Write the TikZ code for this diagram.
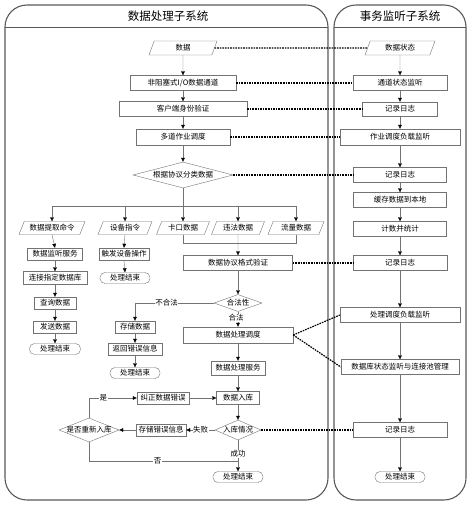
\documentclass[tikz,border=0pt]{standalone}
\usepackage{fontspec}
\setmainfont{Noto Sans CJK SC}
\usetikzlibrary{shapes.geometric,arrows.meta,positioning,calc}

\begin{document}
\begin{tikzpicture}[x=1pt, y=-1pt,
    every node/.style={font=\fontsize{7.5}{8}\selectfont, inner sep=1pt},
    box/.style={draw=black!55, fill=white, minimum height=15},
    io/.style={trapezium, trapezium left angle=60, trapezium right angle=120,
        trapezium stretches body, draw=black!55, fill=white, minimum height=14},
    dec/.style={diamond, draw=black!55, fill=white, inner sep=0pt},
    term/.style={draw=black!55, fill=white, rounded corners=5, minimum height=11},
    lbl/.style={fill=white, inner sep=0.5pt},
    link/.style={draw=black!55},
    arr/.style={draw=black!55, -{Triangle[length=4pt, width=3.6pt, color=black]}},
    dotline/.style={line width=1.2pt, dash pattern=on 1.6pt off 1pt},
    panel/.style={draw=black!65, line width=1.1pt, rounded corners=22},
    title/.style={font=\fontsize{11.5}{12}\selectfont}]
    \useasboundingbox (0,0) rectangle (474,509);

    % Panels
    \draw[panel] (5,5) rectangle (328,500);
    \draw[panel] (334,5) rectangle (466,500);
    \draw[draw=black!65, line width=0.8pt] (5,27) -- (328,27);
    \draw[draw=black!65, line width=0.8pt] (334,27) -- (466,27);
    \node[title] (t1) at (168,16) {数据处理子系统};
    \node[title] (t2) at (400,16) {事务监听子系统};

    % Data processing: main column
    \node[io, minimum width=68] (d0) at (183,48) {数据};
    \node[box, minimum width=106] (d1) at (183,83) {非阻塞式I/O数据通道};
    \node[box, minimum width=128] (d2) at (183,109) {客户端身份验证};
    \node[box, minimum width=94, minimum height=16] (d3) at (183,137) {多道作业调度};
    \node[dec, minimum width=100, minimum height=26, label=center:根据协议分类数据] (d4) at (183,175) {};

    % Protocol types
    \node[io, minimum width=66, minimum height=13] (p1) at (52,228) {数据提取命令};
    \node[io, minimum width=54, minimum height=13] (p2) at (125,228) {设备指令};
    \node[io, minimum width=53, minimum height=13] (p3) at (183,228) {卡口数据};
    \node[io, minimum width=53, minimum height=13] (p4) at (238,228) {违法数据};
    \node[io, minimum width=56, minimum height=13] (p5) at (296,228) {流量数据};
    \coordinate (fork) at (183,206);
    \coordinate (merge) at (238,243);

    % Data extraction
    \node[box, minimum width=55, minimum height=12] (a1) at (55,254) {数据监听服务};
    \node[box, minimum width=64, minimum height=13] (a2) at (55,278) {连接指定数据库};
    \node[box, minimum width=42, minimum height=12] (a3) at (55,303) {查询数据};
    \node[box, minimum width=43, minimum height=12] (a4) at (55,327) {发送数据};
    \node[term, minimum width=51] (a5) at (55,349) {处理结束};

    % Device commands
    \node[box, minimum width=50, minimum height=12] (b1) at (124,254) {触发设备操作};
    \node[term, minimum width=50] (b2) at (125,278) {处理结束};

    % Illegal data
    \node[box, minimum width=40, minimum height=12] (c1) at (135,327) {存储数据};
    \node[box, minimum width=54, minimum height=12] (c2) at (135,349) {返回错误信息};
    \node[term, minimum width=50] (c3) at (135,373) {处理结束};

    % Legal data
    \node[box, minimum width=109] (m1) at (238,263) {数据协议格式验证};
    \node[dec, minimum width=48, minimum height=17, label=center:合法性] (m2) at (238,303) {};
    \node[box, minimum width=110, minimum height=16] (m3) at (238,335) {数据处理调度};
    \node[box, minimum width=54, minimum height=14] (m4) at (238,368) {数据处理服务};
    \node[box, minimum width=43, minimum height=13] (m5) at (238,398) {数据入库};
    \node[dec, minimum width=46, minimum height=20, label=center:入库情况] (m6) at (238,430) {};
    \node[term, minimum width=50] (m7) at (238,477) {处理结束};
    \node[box, minimum width=50, minimum height=12] (e1) at (161,430) {存储错误信息};
    \node[dec, minimum width=60, minimum height=24, label=center:是否重新入库] (e2) at (89,430) {};
    \node[box, minimum width=52, minimum height=12] (e3) at (163,398) {纠正数据错误};
    \coordinate (join) at (238,461);

    % Listener column
    \node[io, minimum width=70] (r0) at (400,48) {数据状态};
    \node[box, minimum width=94] (r1) at (400,83) {通道状态监听};
    \node[box, minimum width=75, minimum height=14] (r2) at (400,109) {记录日志};
    \node[box, minimum width=120, minimum height=16] (r3) at (400,137) {作业调度负载监听};
    \node[box, minimum width=93] (r4) at (400,175) {记录日志};
    \node[box, minimum width=93] (r5) at (400,200) {缓存数据到本地};
    \node[box, minimum width=93] (r6) at (400,229) {计数并统计};
    \node[box, minimum width=94] (r7) at (400,263) {记录日志};
    \node[box, minimum width=120] (r8) at (400,315) {处理调度负载监听};
    \node[box, minimum width=118] (r9) at (400,367) {数据库状态监听与连接池管理};
    \node[box, minimum width=94] (r10) at (400,430) {记录日志};
    \node[term, minimum width=50] (r11) at (400,477) {处理结束};

    % Flow arrows
    \foreach \a/\b in {d0/d1,d1/d2,d2/d3,d3/d4,p1/a1,a1/a2,a2/a3,a3/a4,a4/a5,
        p2/b1,b1/b2,c1/c2,c2/c3,p4/m1,m1/m2,m3/m4,m4/m5,m5/m6,
        r0/r1,r1/r2,r2/r3,r3/r4,r4/r5,r5/r6,r6/r7,r7/r8,r8/r9,r9/r10,r10/r11}
        \draw[arr] (\a.south) -- (\b.north);
    \draw[link] (d4.south) -- (fork);
    \foreach \p in {p1,p2,p3,p4,p5}
        \draw[arr] (fork) -| (\p.north);
    \draw[link] (p3.south) |- (merge);
    \draw[link] (p5.south) |- (merge);
    \draw[arr] (m2.west) -| node[lbl, pos=0.3] {不合法} (c1.north);
    \draw[arr] (m2.south) -- node[lbl, pos=0.4, xshift=-2] {合法} (m3.north);
    \draw[arr] (m6.west) -- node[lbl] {失败} (e1.east);
    \draw[arr] (e1.west) -- (e2.east);
    \draw[arr] (e2.north) |- node[lbl, pos=0.65] {是} (e3.west);
    \draw[arr] (e3.east) -- (m5.west);
    \draw[link] (e2.south) |- node[lbl, pos=0.73] {否} (join);
    \draw[arr] (m6.south) -- node[lbl, pos=0.43] {成功} (m7.north);

    % Monitoring links
    \foreach \a/\b in {d0/r0,d1/r1,d2/r2,d3/r3,d4/r4,m1/r7,m3/r8,m3/r9,m6/r10}
        \draw[dotline] (\a.east) -- (\b.west);
\end{tikzpicture}
\end{document}
